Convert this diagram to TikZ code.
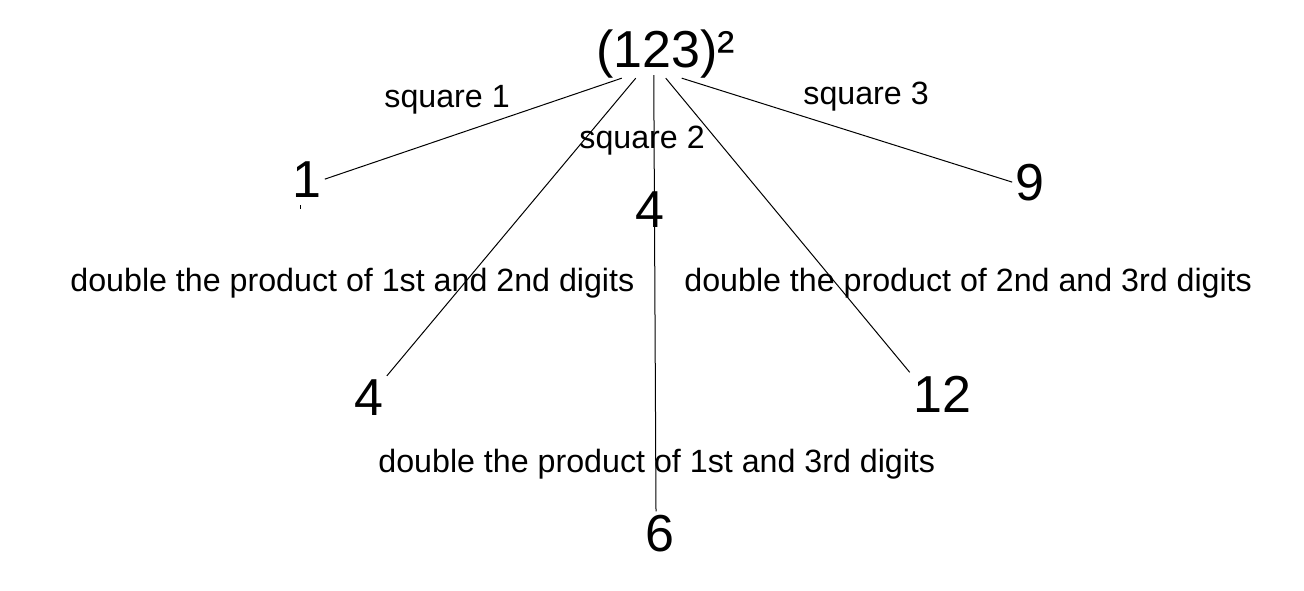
\documentclass[tikz,border=0pt]{standalone}
\usepackage{fontspec}
\setmainfont{Liberation Sans}

\begin{document}
\begin{tikzpicture}[x=0.5pt,y=-0.5pt,
        digit/.style={font=\fontsize{26}{30}\selectfont,inner sep=1.5pt,anchor=base},
        rule/.style={font=\fontsize{16.1}{19}\selectfont,inner sep=0pt,anchor=base west},
        every edge/.style={draw,line width=0.5pt}]
                \useasboundingbox (0,0) rectangle (1304,590);
                \node[digit,anchor=base west,inner sep=0pt] (sq) at (596,67) {(123)²};
                \node[digit] (one) at (307,197) {1};
                \node[digit] (nine) at (1030,200) {9};
                \node[digit] (fourm) at (650,227) {4};
                \node[digit] (fourl) at (369,415) {4};
                \node[digit] (twelve) at (942,412) {12};
                \node[digit] (six) at (660,551) {6};
                % labels
                \node[rule] (sqone) at (384,107) {square 1};
                \node[rule] (sqtwo) at (579,148) {square 2};
                \node[rule] (sqthree) at (803,104) {square 3};
                \node[rule] (dblab) at (70,291) {double the product of 1st and 2nd digits};
                \node[rule] (dblbc) at (684,291) {double the product of 2nd and 3rd digits};
                \node[rule] (dblac) at (378,472) {double the product of 1st and 3rd digits};
                \path
                ([xshift=-22pt]sq.south) edge (one.east)
                ([xshift=-15pt]sq.south) edge (fourl.north east)
                ([xshift=-6pt,yshift=1.5pt]sq.south) edge ([xshift=-2pt]six.north)
                ([xshift=0pt]sq.south) edge (twelve.north west)
                ([xshift=8pt]sq.south) edge (nine.west);
                \fill (299.5,205) rectangle (300.5,209);
            \end{tikzpicture}
\end{document}
